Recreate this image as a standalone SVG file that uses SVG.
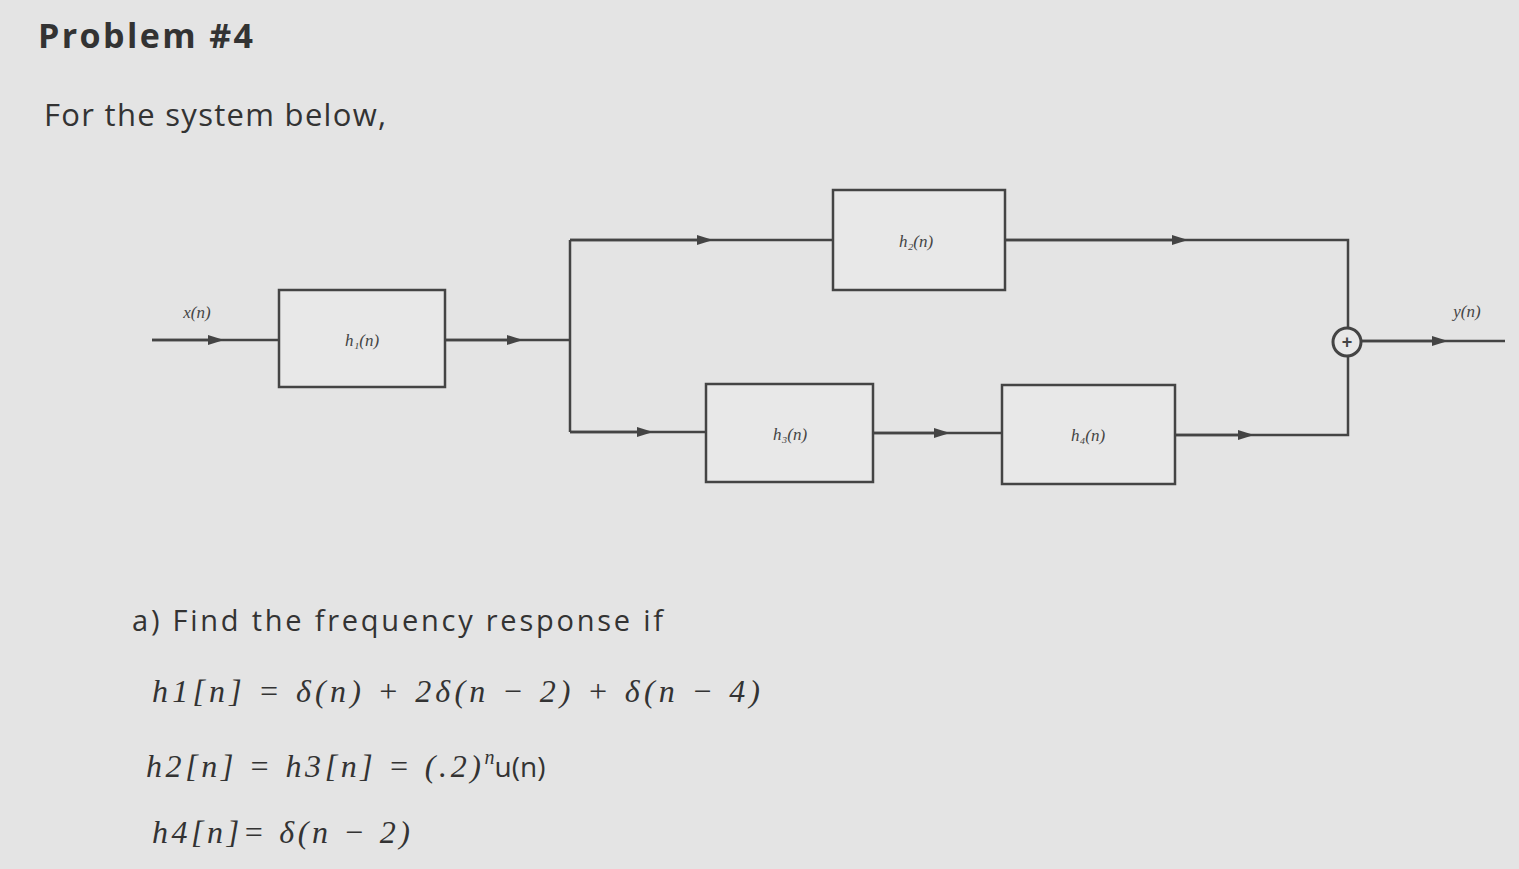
<svg xmlns="http://www.w3.org/2000/svg" width="1519" height="869" viewBox="0 0 1519 869">
<style>
.t{font-family:"Open Sans","Liberation Sans",sans-serif;fill:#333}
.m{font-family:"Liberation Serif",serif;font-style:italic;fill:#333}
.b{fill:#e8e8e8;stroke:#444;stroke-width:2.5}
.l{stroke:#444;stroke-width:2.5;fill:none}
.s{font-family:"Liberation Serif",serif;font-style:italic;fill:#444;font-size:17px}
</style>
<defs><marker id="a" markerWidth="16" markerHeight="12" refX="8" refY="6" orient="auto" markerUnits="userSpaceOnUse"><path d="M0,1 L16,6 L0,11 Z" fill="#444"/></marker></defs>
<rect width="1519" height="869" fill="#e4e4e4"/>
<text class="t" x="38" y="48" font-size="34" font-weight="bold" textLength="215">Problem #4</text>
<text class="t" x="44" y="126" font-size="31" textLength="342">For the system below,</text>
<g id="connectors">
<path class="l" d="M152,340 H279" /><path class="l" d="M152,340 H216" marker-end="url(#a)"/>
<path class="l" d="M445,340 H570" /><path class="l" d="M445,340 H515" marker-end="url(#a)"/>
<path class="l" d="M570,240 V432"/>
<path class="l" d="M570,240 H833"/><path class="l" d="M570,240 H705" marker-end="url(#a)"/>
<path class="l" d="M570,432 H706"/><path class="l" d="M570,432 H645" marker-end="url(#a)"/>
<path class="l" d="M873,433 H1002"/><path class="l" d="M873,433 H942" marker-end="url(#a)"/>
<path class="l" d="M1005,240 H1348 V328"/><path class="l" d="M1005,240 H1180" marker-end="url(#a)"/>
<path class="l" d="M1175,435 H1348 V356"/><path class="l" d="M1175,435 H1246" marker-end="url(#a)"/>
<path class="l" d="M1362,341 H1505"/><path class="l" d="M1362,341 H1440" marker-end="url(#a)"/>
</g>
<g id="sum"><circle cx="1347" cy="342" r="14" fill="#e8e8e8" stroke="#444" stroke-width="3"/><text x="1347" y="348" font-size="18" text-anchor="middle" font-family="Liberation Sans,sans-serif" font-weight="bold" fill="#444">+</text></g>
<text class="s" x="197" y="318" text-anchor="middle">x(n)</text>
<text class="s" x="1467" y="317" text-anchor="middle">y(n)</text>
<g id="h1"><rect class="b" x="279" y="290" width="166" height="97"/><text class="s" x="362" y="346" text-anchor="middle">h₁(n)</text></g>
<g id="h2"><rect class="b" x="833" y="190" width="172" height="100"/><text class="s" x="916" y="247" text-anchor="middle">h₂(n)</text></g>
<g id="h3"><rect class="b" x="706" y="384" width="167" height="98"/><text class="s" x="790" y="440" text-anchor="middle">h₃(n)</text></g>
<g id="h4"><rect class="b" x="1002" y="385" width="173" height="99"/><text class="s" x="1088" y="441" text-anchor="middle">h₄(n)</text></g>
<text class="t" x="132" y="631" font-size="29" textLength="531">a)  Find the  frequency response if</text>
<text class="m" x="152" y="702" font-size="32" textLength="608">h1[n] = δ(n) + 2δ(n − 2) + δ(n − 4)</text>
<text class="m" x="146" y="777" font-size="32"><tspan textLength="335">h2[n] = h3[n] = (.2)</tspan><tspan font-size="20" dy="-13">n</tspan><tspan dy="13" font-style="normal" font-family="Open Sans,sans-serif" font-size="28">u(n)</tspan></text>
<text class="m" x="152" y="843" font-size="32" textLength="258">h4[n]= δ(n − 2)</text>
</svg>
